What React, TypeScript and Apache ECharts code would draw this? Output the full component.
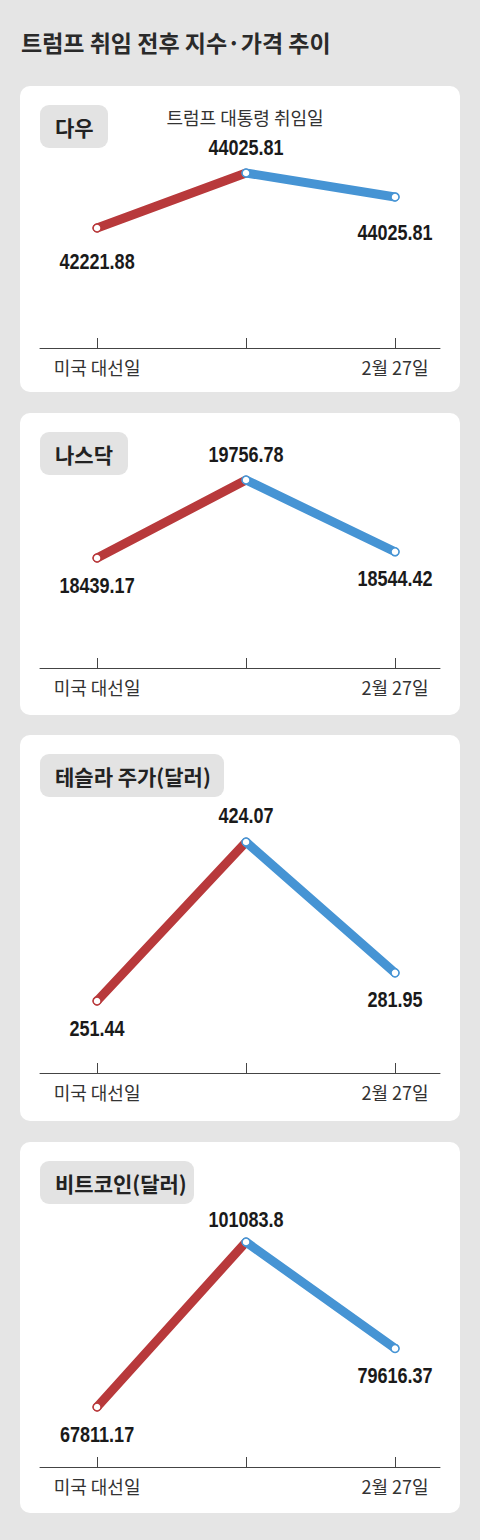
import { useEffect, useRef } from 'react';
import * as echarts from 'echarts';

// x positions: 0 = 대선일, 1 = 취임일, 2 = 2월 27일
const categories = ['미국 대선일', '', '2월 27일'];
const panelNames = ['다우', '나스닥', '테슬라 주가(달러)', '비트코인(달러)'];

const dowValues = [42221.88, 44025.81, 43239.5];
// the printed label on the last Dow point repeats the peak value
const dowLabels = ['42221.88', '44025.81', '44025.81'];
const nasdaqValues = [18439.17, 19756.78, 18544.42];
const teslaValues = [251.44, 424.07, 281.95];
const bitcoinValues = [67811.17, 101083.8, 79616.37];

const panelValues = [dowValues, nasdaqValues, teslaValues, bitcoinValues];
const panelLabels = [
  dowLabels,
  nasdaqValues.map(String),
  teslaValues.map(String),
  bitcoinValues.map(String),
];
// bottom of each value scale (sits on the axis line)
const yMins = [38286, 16581, 173.2, 55712];

const RED = '#b8393b';
const BLUE = '#4694d4';
const KR = "'Noto Sans CJK KR', sans-serif";
const NUM = "'Liberation Sans', Arial, sans-serif";

// layout per card: card box, label box width, peak y, axis y, value label offsets
const layout = [
  { top: 86, bottom: 392, boxW: 68, peakY: 173, axisY: 348, off: [33, -26, 35] },
  { top: 413, bottom: 715, boxW: 88, peakY: 480, axisY: 668, off: [27, -26, 27] },
  { top: 735, bottom: 1121, boxW: 184, peakY: 842, axisY: 1073, off: [27, -27, 26] },
  { top: 1142, bottom: 1513, boxW: 154, peakY: 1242, axisY: 1467, off: [27, -23, 27] },
];

const H = 1540;

export default function App() {
  const ref = useRef<HTMLDivElement | null>(null);

  useEffect(() => {
    if (!ref.current) return;
    const chart = echarts.init(ref.current, null, { renderer: 'svg' });

    const graphics: any[] = [
      {
        type: 'text',
        z: 1,
        x: 21,
        y: 42,
        style: {
          text: '트럼프 취임 전후 지수·가격 추이',
          fill: '#2a2a2a',
          font: `bold 23px ${KR}`,
          verticalAlign: 'middle',
        },
      },
    ];
    layout.forEach((l, i) => {
      graphics.push({
        type: 'rect',
        z: 1,
        shape: { x: 20, y: l.top, width: 440, height: l.bottom - l.top, r: 10 },
        style: { fill: '#fff' },
      });
      graphics.push({
        type: 'rect',
        z: 2,
        shape: { x: 40, y: l.top + 19, width: l.boxW, height: 43, r: 9 },
        style: { fill: '#e3e3e3' },
      });
      graphics.push({
        type: 'text',
        z: 3,
        x: 55,
        y: l.top + 41,
        style: {
          text: panelNames[i],
          fill: '#222',
          font: `bold 21px ${KR}`,
          verticalAlign: 'middle',
        },
      });
    });
    graphics.push({
      type: 'text',
      z: 3,
      x: 245,
      y: 117,
      style: {
        text: '트럼프 대통령 취임일',
        fill: '#333',
        font: `18px ${KR}`,
        align: 'center',
        verticalAlign: 'middle',
      },
    });

    const grid = layout.map(l => ({
      left: 40,
      right: 40,
      top: l.peakY,
      bottom: H - l.axisY,
    }));

    const xAxis = layout.map((_, i) => ({
      type: 'value',
      gridIndex: i,
      min: -0.383,
      max: 2.302,
      z: 5,
      axisLine: { show: true, lineStyle: { color: '#444', width: 1 } },
      axisTick: {
        show: true,
        inside: true,
        length: 10,
        customValues: [0, 1, 2],
        lineStyle: { color: '#444', width: 1 },
      },
      axisLabel: {
        show: true,
        customValues: [0, 2],
        margin: 10,
        formatter: (v: number) => categories[Math.round(v)],
        color: '#333',
        fontSize: 18,
        fontFamily: KR,
      },
      splitLine: { show: false },
    }));

    const yAxis = panelValues.map((vals, i) => ({
      type: 'value',
      gridIndex: i,
      min: yMins[i],
      max: Math.max(...vals),
      show: false,
    }));

    const series: any[] = [];
    panelValues.forEach((vals, i) => {
      const labels = panelLabels[i];
      const off = layout[i].off;
      series.push({
        type: 'line',
        xAxisIndex: i,
        yAxisIndex: i,
        z: 10,
        symbol: 'circle',
        symbolSize: 8,
        lineStyle: { color: RED, width: 9, cap: 'round' },
        itemStyle: { color: '#fff', borderColor: RED, borderWidth: 1.5 },
        data: [
          { value: [0, vals[0]] },
          { value: [1, vals[1]], symbol: 'none' },
        ],
      });
      series.push({
        type: 'line',
        xAxisIndex: i,
        yAxisIndex: i,
        z: 11,
        symbol: 'circle',
        symbolSize: 8,
        lineStyle: { color: BLUE, width: 9, cap: 'round' },
        itemStyle: { color: '#fff', borderColor: BLUE, borderWidth: 1.5 },
        data: [
          { value: [1, vals[1]] },
          { value: [2, vals[2]] },
        ],
      });
      // condensed bold value labels, placed at each point via the axes
      series.push({
        type: 'custom',
        xAxisIndex: i,
        yAxisIndex: i,
        z: 12,
        silent: true,
        data: vals.map((v, k) => [k, v]),
        renderItem: (params: any, api: any) => {
          const k = params.dataIndex;
          const pt = api.coord([api.value(0), api.value(1)]);
          return {
            type: 'text',
            x: pt[0],
            y: pt[1] + off[k],
            scaleX: 0.82,
            style: {
              text: labels[k],
              fill: '#1a1a1a',
              font: `bold 22px ${NUM}`,
              align: 'center',
              verticalAlign: 'middle',
            },
          };
        },
      });
    });

    chart.setOption({
      animation: false,
      backgroundColor: '#e5e5e5',
      graphic: graphics,
      grid,
      xAxis,
      yAxis,
      series,
    });

    return () => chart.dispose();
  }, []);

  return (
    <div
      ref={ref}
      style={{ position: 'absolute', left: 0, top: 0, width: 480, height: H }}
    />
  );
}
